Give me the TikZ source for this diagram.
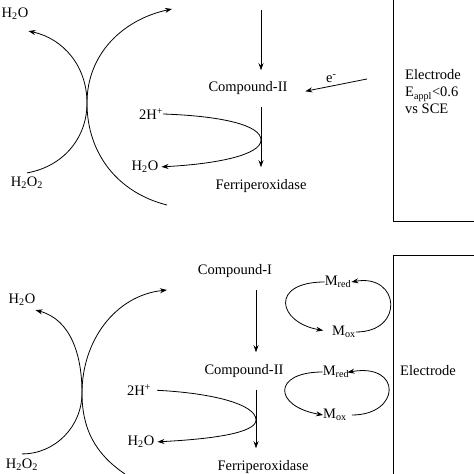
\documentclass[tikz,border=0pt]{standalone}
\usepackage{fontspec}
\setmainfont{Liberation Serif}
\usetikzlibrary{arrows.meta}

\tikzset{
  lbl/.style={inner sep=0pt, font=\fontsize{14.5}{17}\selectfont},
  rxn/.style={-{Stealth[length=7pt,width=5pt]}, line width=0.8pt},
  flow/.style={rxn, shorten <=12pt, shorten >=12pt},
}

\begin{document}
\begin{tikzpicture}[x=1pt,y=1pt]
\useasboundingbox (0,0) rectangle (474,474);

% upper scheme
\node[lbl] (h2oA) at (15,460) {H\textsubscript{2}O};
\node[lbl] (h2o2A) at (27,291) {H\textsubscript{2}O\textsubscript{2}};
\node[lbl] (cpdIIa) at (248,386) {Compound-II};
\node[lbl] (ferriA) at (261,288) {Ferriperoxidase};
\node[lbl] (h2pA) at (151,360) {2H\textsuperscript{+}};
\node[lbl] (h2oB) at (145,307) {H\textsubscript{2}O};
\node[lbl, anchor=west, align=left] (elecA) at (405,382) {Electrode\\E\textsubscript{appl}<0.6\\vs SCE};
\coordinate (xA) at (87,371);
\coordinate (inA) at (167,269);
\coordinate (outA) at (172,465);
\coordinate (topA) at (261,464);
\coordinate (tipA) at (261,334);
\coordinate (eIn) at (367,395);

\draw[rxn] ([yshift=4pt]h2o2A.north) to[out=10,in=-90] (xA) to[out=90,in=-12] ([yshift=-11pt]h2oA.south east);
\draw[rxn] (inA) to[out=166,in=-90] (xA) to[out=90,in=192] (outA);
\draw[rxn, shorten >=11pt] (topA) -- (topA |- cpdIIa.north);
\draw[flow] (cpdIIa.south -| tipA) -- (ferriA.north -| tipA);
\draw[rxn, shorten >=3pt] (h2pA.east) .. controls +(58,-2) and +(0,15) .. (tipA)
  .. controls +(0,-15) and +(58,3) .. (h2oB.east);
\draw[rxn, shorten >=18pt] (eIn) -- (cpdIIa.south east)
  node[lbl, pos=0.45, above=3pt] {e\textsuperscript{-}};
\draw[line width=0.8pt] (393,474) -- (393,253) -- (474,253);

% lower scheme
\node[lbl] (h2oC) at (22,174) {H\textsubscript{2}O};
\node[lbl] (h2o2C) at (22,9) {H\textsubscript{2}O\textsubscript{2}};
\node[lbl] (cpdIb) at (235,203) {Compound-I};
\node[lbl] (cpdIIb) at (244,103) {Compound-II};
\node[lbl] (ferriB) at (263,7) {Ferriperoxidase};
\node[lbl] (h2pB) at (139,84) {2H\textsuperscript{+}};
\node[lbl] (h2oD) at (141,32) {H\textsubscript{2}O};
\node[lbl] (mr1) at (338,192) {M\textsubscript{red}};
\node[lbl] (mo1) at (344,142) {M\textsubscript{ox}};
\node[lbl] (mr2) at (336,102) {M\textsubscript{red}};
\node[lbl] (mo2) at (335,59) {M\textsubscript{ox}};
\node[lbl, anchor=west] (elecB) at (400,103) {Electrode};
\coordinate (xB) at (82,81);
\coordinate (inB) at (125,0);
\coordinate (outB) at (167,184);
\coordinate (tipB) at (256,54);

\draw[rxn] ([yshift=5pt]h2o2C.north) to[out=0,in=-90] (xB) to[out=90,in=-15] ([yshift=-4pt]h2oC.south east);
\draw[rxn] (inB) to[out=146,in=-90] (xB) to[out=90,in=186] (outB);
\draw[flow] (cpdIb.south -| tipB) -- (cpdIIb.north -| tipB);
\draw[flow] (cpdIIb.south -| tipB) -- (ferriB.north -| tipB);
\draw[rxn, shorten <=6pt, shorten >=3pt] (h2pB.east) .. controls +(60,-3) and +(0,16) .. (tipB)
  .. controls +(0,-13) and +(58,3) .. (h2oD.east);
\draw[rxn, shorten >=9pt] (mr1.west) to[out=180,in=170,looseness=2.8] (mo1.west);
\draw[rxn] (mo1.east) to[out=0,in=10,looseness=2.5] (mr1.east);
\draw[rxn] (mr2.west) to[out=180,in=170,looseness=3] (mo2.west);
\draw[rxn, shorten <=5pt, shorten >=-2pt] (mo2.east) to[out=0,in=10,looseness=3.2] (mr2.east);
\draw[line width=0.8pt] (393,0) -- (393,219) -- (474,219);
\end{tikzpicture}
\end{document}
